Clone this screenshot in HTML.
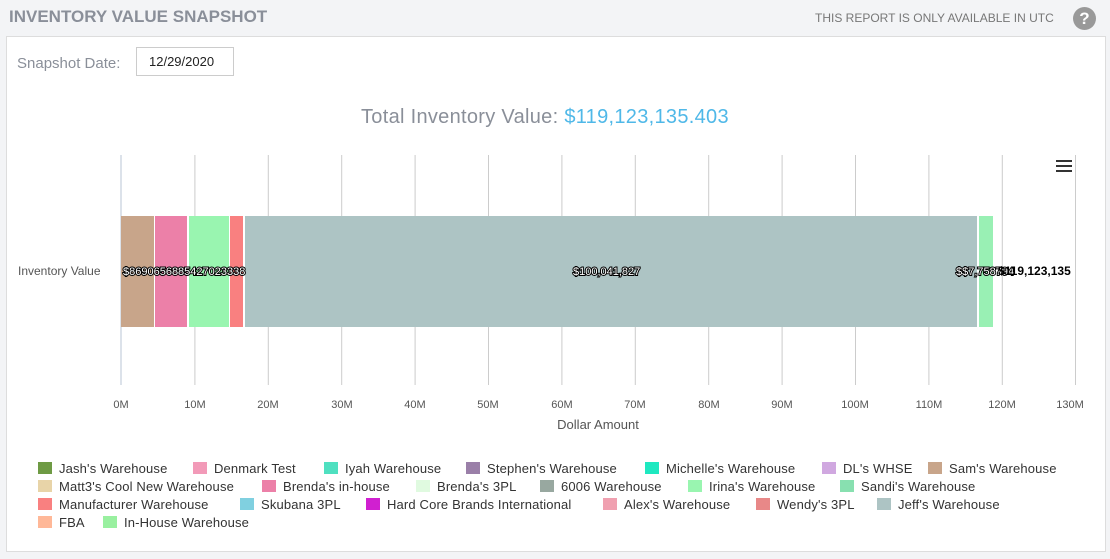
<!DOCTYPE html>
<html><head><style>
body{margin:0;width:1110px;height:559px;background:#f3f4f6;font-family:"Liberation Sans",sans-serif;position:relative;overflow:hidden}
.t{position:absolute;white-space:nowrap}
.leg{position:absolute;font-size:13px;color:#333;white-space:nowrap;letter-spacing:0.15px}
.leg i{display:inline-block;width:14px;height:12px;margin-right:7px;vertical-align:-1px}
</style></head><body>
<div class="t" style="left:9px;top:7px;font-size:17px;font-weight:bold;color:#8a8f99">INVENTORY VALUE SNAPSHOT</div>
<div class="t" style="left:815px;top:11px;font-size:12px;color:#777">THIS REPORT IS ONLY AVAILABLE IN UTC</div>
<div class="t" style="left:1073px;top:7px;width:23px;height:23px;border-radius:50%;background:#999;color:#fff;font-weight:bold;font-size:17px;text-align:center;line-height:23px">?</div>
<div style="position:absolute;left:6px;top:36px;width:1098px;height:514px;background:#fff;border:1px solid #ddd"></div>
<div class="t" style="left:17px;top:55px;font-size:15px;color:#8a8f99">Snapshot Date:</div>
<div style="position:absolute;left:136px;top:47px;width:96px;height:27px;border:1px solid #ccc;background:#fff"></div>
<div class="t" style="left:149px;top:54px;font-size:13px;color:#222">12/29/2020</div>
<div class="t" style="left:361px;top:106px;font-size:20px;letter-spacing:0.3px;color:#8a8f99">Total Inventory Value: <span style="color:#4fb8e8">$119,123,135.403</span></div>
<svg style="position:absolute;left:0;top:0" width="1110" height="559">
<g stroke="#ccc" stroke-width="1">
<line x1="194.9" y1="155" x2="194.9" y2="385"/><line x1="268.3" y1="155" x2="268.3" y2="385"/><line x1="341.7" y1="155" x2="341.7" y2="385"/><line x1="415.1" y1="155" x2="415.1" y2="385"/><line x1="488.5" y1="155" x2="488.5" y2="385"/><line x1="561.9" y1="155" x2="561.9" y2="385"/><line x1="635.3" y1="155" x2="635.3" y2="385"/><line x1="708.7" y1="155" x2="708.7" y2="385"/><line x1="782.1" y1="155" x2="782.1" y2="385"/><line x1="855.5" y1="155" x2="855.5" y2="385"/><line x1="928.9" y1="155" x2="928.9" y2="385"/><line x1="1002.3" y1="155" x2="1002.3" y2="385"/><line x1="1075.5" y1="155" x2="1075.5" y2="385"/>
</g>
<line x1="121" y1="155" x2="121" y2="385" stroke="#b8c4d4"/>
<rect x="121" y="216" width="33" height="111" fill="#c8a58a"/>
<rect x="155" y="216" width="32" height="111" fill="#ec80a8"/>
<rect x="189" y="216" width="40" height="111" fill="#99f5b0"/>
<rect x="230" y="216" width="13" height="111" fill="#f98080"/>
<rect x="245" y="216" width="732" height="111" fill="#adc4c4"/>
<rect x="979" y="216" width="14" height="111" fill="#99f0b4"/>
<g fill="#333"><rect x="1056" y="160" width="16" height="2"/><rect x="1056" y="165" width="16" height="2"/><rect x="1056" y="170" width="16" height="2"/></g>
<g font-family="Liberation Sans" font-size="11" fill="#fff" stroke="#000" stroke-width="2" paint-order="stroke">
<text x="123" y="275">$8690656885427023338</text>
<text x="573" y="275">$100,041,827</text>
<text x="956" y="275">$$7,758794</text>
</g>
<text x="998" y="275" font-family="Liberation Sans" font-size="12" font-weight="bold" fill="#000">$119,123,135</text>
<text x="18" y="275" font-family="Liberation Sans" font-size="12" fill="#555">Inventory Value</text>
<g font-family="Liberation Sans" font-size="11" fill="#555" text-anchor="middle">
<text x="121" y="408">0M</text><text x="195" y="408">10M</text><text x="268" y="408">20M</text><text x="342" y="408">30M</text><text x="415" y="408">40M</text><text x="488" y="408">50M</text><text x="562" y="408">60M</text><text x="635" y="408">70M</text><text x="709" y="408">80M</text><text x="782" y="408">90M</text><text x="855" y="408">100M</text><text x="929" y="408">110M</text><text x="1002" y="408">120M</text><text x="1070" y="408">130M</text>
</g>
<text x="598" y="429" font-family="Liberation Sans" font-size="13" fill="#555" text-anchor="middle">Dollar Amount</text>
</svg>
<div class="leg" style="left:38px;top:461px"><i style="background:#6e9a44"></i>Jash's Warehouse</div>
<div class="leg" style="left:193px;top:461px"><i style="background:#f29ab8"></i>Denmark Test</div>
<div class="leg" style="left:324px;top:461px"><i style="background:#4fe0c0"></i>Iyah Warehouse</div>
<div class="leg" style="left:466px;top:461px"><i style="background:#9a7fa8"></i>Stephen's Warehouse</div>
<div class="leg" style="left:645px;top:461px"><i style="background:#1ee8c0"></i>Michelle's Warehouse</div>
<div class="leg" style="left:822px;top:461px"><i style="background:#d0a8e0"></i>DL's WHSE</div>
<div class="leg" style="left:928px;top:461px"><i style="background:#c8a58a"></i>Sam's Warehouse</div>
<div class="leg" style="left:38px;top:479px"><i style="background:#e8d4a8"></i>Matt3's Cool New Warehouse</div>
<div class="leg" style="left:262px;top:479px"><i style="background:#ec80a8"></i>Brenda's in-house</div>
<div class="leg" style="left:416px;top:479px"><i style="background:#e0fae0"></i>Brenda's 3PL</div>
<div class="leg" style="left:540px;top:479px"><i style="background:#98a8a0"></i>6006 Warehouse</div>
<div class="leg" style="left:688px;top:479px"><i style="background:#99f5b0"></i>Irina's Warehouse</div>
<div class="leg" style="left:840px;top:479px"><i style="background:#88e0b0"></i>Sandi's Warehouse</div>
<div class="leg" style="left:38px;top:497px"><i style="background:#f98080"></i>Manufacturer Warehouse</div>
<div class="leg" style="left:240px;top:497px"><i style="background:#80d0e0"></i>Skubana 3PL</div>
<div class="leg" style="left:366px;top:497px"><i style="background:#d020d0"></i>Hard Core Brands International</div>
<div class="leg" style="left:603px;top:497px"><i style="background:#f0a0b0"></i>Alex's Warehouse</div>
<div class="leg" style="left:756px;top:497px"><i style="background:#e88888"></i>Wendy's 3PL</div>
<div class="leg" style="left:877px;top:497px"><i style="background:#adc4c4"></i>Jeff's Warehouse</div>
<div class="leg" style="left:38px;top:515px"><i style="background:#ffb898"></i>FBA</div>
<div class="leg" style="left:103px;top:515px"><i style="background:#99f0a0"></i>In-House Warehouse</div>
</body></html>
